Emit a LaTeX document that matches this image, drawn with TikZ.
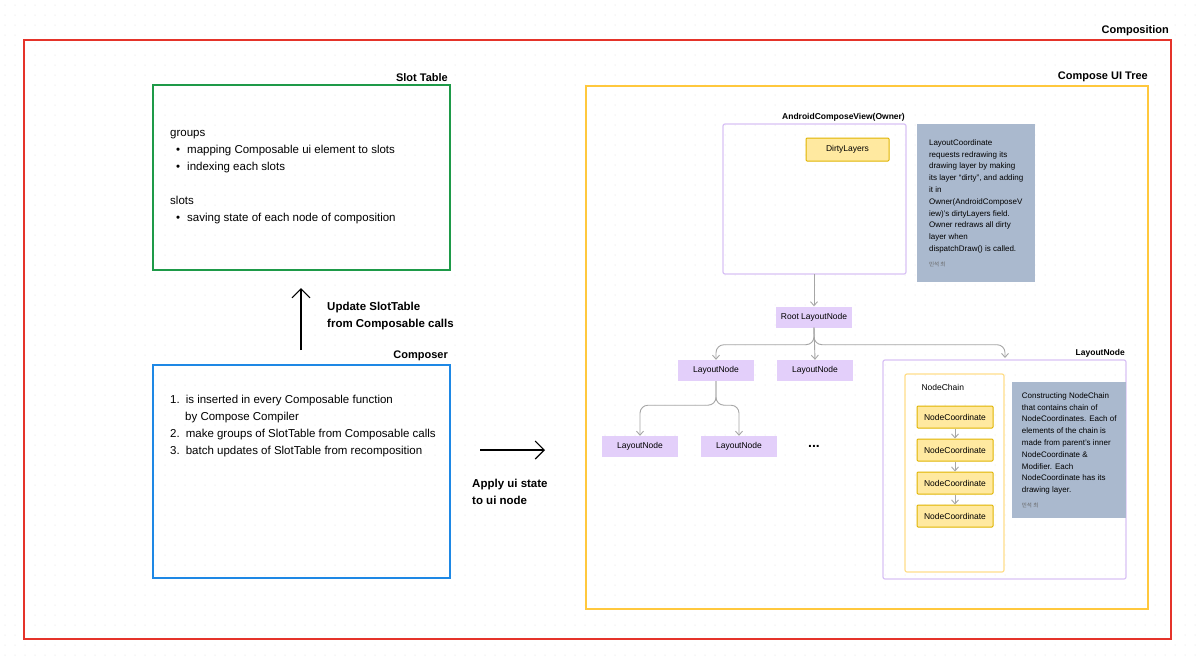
\documentclass[tikz,border=0pt]{standalone}
\usepackage{fontspec}
\setmainfont{Liberation Sans}
\newfontfamily\krfont{Noto Sans CJK KR}
\usetikzlibrary{arrows.meta,positioning}

\definecolor{compRed}{HTML}{E5332A}
\definecolor{slotGreen}{HTML}{1E9A48}
\definecolor{composerBlue}{HTML}{1E88E5}
\definecolor{treeYellow}{HTML}{FFC83D}
\definecolor{ownerPurple}{HTML}{D9C2F5}
\definecolor{nodePurple}{HTML}{E3CFFA}
\definecolor{chipFill}{HTML}{FFE9A0}
\definecolor{chipLine}{HTML}{E0B400}
\definecolor{stickyFill}{HTML}{AAB9CE}

\tikzset{
  frame/.style={draw,line width=1.2pt},
  frame label/.style={font=\bfseries\fontsize{11}{12}\selectfont,anchor=south east,inner sep=1pt},
  small label/.style={font=\bfseries\fontsize{8.5}{10}\selectfont,anchor=south east,inner sep=1pt},
  lnode/.style={fill=nodePurple,minimum width=76pt,minimum height=21pt,font=\fontsize{8.5}{10}\selectfont},
  chip/.style={draw=chipLine,fill=chipFill,line width=1pt,rounded corners=1pt,minimum width=76pt,minimum height=22pt,font=\fontsize{8.5}{10}\selectfont},
  sticky/.style={fill=stickyFill,anchor=north west,align=left,inner xsep=10pt,inner ysep=10pt,font=\fontsize{8}{11.8}\selectfont},
  tree/.style={draw=gray!70,line width=0.9pt,rounded corners=8pt,-{Straight Barb[length=4pt,width=7pt]}},
  big arrow/.style={line width=1.1pt,-{Straight Barb[length=9pt,width=18pt]}},
  note/.style={font=\bfseries\fontsize{11.5}{17}\selectfont,align=left,anchor=north west,inner sep=0pt},
  body/.style={font=\fontsize{11.5}{17}\selectfont,align=left,anchor=north west,inner sep=0pt}
}
\newcommand\authorTag{{\krfont\fontsize{5.5}{8}\selectfont\color{gray!80!black}민석 최}}

\begin{document}
\begin{tikzpicture}[x=1pt,y=-1pt]
  \fill[white] (0,0) rectangle (1200,662);
  \useasboundingbox (0,0) rectangle (1200,662);
  % dot grid
  \foreach \gy in {5,15,...,655}
    \draw[gray!30,line width=1pt,line cap=round,dash pattern=on 0pt off 10pt] (5,\gy) -- (1200,\gy);

  % Composition
  \draw[frame,compRed] (24,40) rectangle (1171,639);
  \node[frame label] at (1170,37) {Composition};

  % Slot Table
  \draw[frame,slotGreen] (153,85) rectangle (450,270);
  \node[frame label] at (449,83) {Slot Table};
  \node[body] (slots) at (170,130) {groups\\
    \hspace*{6pt}\textbullet\hspace{7pt}mapping Composable ui element to slots\\
    \hspace*{6pt}\textbullet\hspace{7pt}indexing each slots\\[17pt]
    slots\\
    \hspace*{6pt}\textbullet\hspace{7pt}saving state of each node of composition};

  % Composer
  \draw[frame,composerBlue] (153,365) rectangle (450,578);
  \node[frame label] at (449,362) {Composer};
  \node[body] (steps) at (170,395) {1.\hspace{6pt}is inserted in every Composable function\\
    \hspace*{15pt}by Compose Compiler\\
    2.\hspace{6pt}make groups of SlotTable from Composable calls\\
    3.\hspace{6pt}batch updates of SlotTable from recomposition};

  \coordinate (upFrom) at (301,350);
  \coordinate (upTo) at (301,288);
  \draw[big arrow] (upFrom) -- (upTo);
  \node[note] (upText) at (327,302) {Update SlotTable\\from Composable calls};

  \coordinate (rightFrom) at (480,450);
  \coordinate (rightTo) at (545,450);
  \draw[big arrow] (rightFrom) -- (rightTo);
  \node[note] (rightText) at (472,479) {Apply ui state\\to ui node};

  % Compose UI Tree
  \draw[frame,treeYellow] (586,86) rectangle (1148,609);
  \node[frame label] at (1149,83) {Compose UI Tree};

  \draw[frame,ownerPurple,rounded corners=2pt] (723,124) rectangle (906,274);
  \node[small label] at (906,122) {AndroidComposeView(Owner)};
  \node[chip,minimum width=83pt,minimum height=23pt] (dirty) at (847.5,149.5) {DirtyLayers};
  \coordinate (owner) at (814,274);

  \node[sticky,minimum width=118pt,minimum height=158pt] (note1) at (917,124) {LayoutCoordinate\\requests redrawing its\\drawing layer by making\\its layer “dirty”, and adding\\it in\\Owner(AndroidComposeV\\iew)’s dirtyLayers field.\\Owner redraws all dirty\\layer when\\dispatchDraw() is called.\\[3pt]\authorTag};

  \node[lnode] (root) at (814,317) {Root LayoutNode};
  \node[lnode] (ln1) at (716,370.5) {LayoutNode};
  \node[lnode] (ln2) at (815,370.5) {LayoutNode};
  \node[lnode] (ln3) at (640,446.5) {LayoutNode};
  \node[lnode] (ln4) at (739,446.5) {LayoutNode};
  \node[font=\bfseries\fontsize{14}{14}\selectfont] (more) at (814,446) {...};

  \draw[frame,ownerPurple,rounded corners=2pt] (883,360) rectangle (1126,579);
  \node[small label] at (1126,358) {LayoutNode};
  \coordinate (ln5) at (1005,358);

  \draw[treeYellow!60,line width=1.2pt,rounded corners=2pt] (905,374) rectangle (1004,572);
  \node[font=\fontsize{8.5}{10}\selectfont,anchor=west] (chain) at (918,387) {NodeChain};
  \node[chip] (nc1) at (955,417) {NodeCoordinate};
  \node[chip] (nc2) at (955,450) {NodeCoordinate};
  \node[chip] (nc3) at (955,483) {NodeCoordinate};
  \node[chip] (nc4) at (955,516) {NodeCoordinate};

  \node[sticky,inner xsep=9pt,minimum width=114pt,minimum height=136pt] (note2) at (1012,382) {Constructing NodeChain\\that contains chain of\\NodeCoordinates. Each of\\elements of the chain is\\made from parent’s inner\\NodeCoordinate \&\\Modifier. Each\\NodeCoordinate has its\\drawing layer.\\[3pt]\authorTag};

  % connectors
  \draw[tree] (owner) -- (root.north);
  \draw[tree] (root.south) -- ++(0,17) -| (ln1.north);
  \draw[tree] (root.south) -- ++(0,17) -| (ln5);
  \draw[tree] (root.south) -- (ln2.north);
  \draw[tree] (ln1.south) -- ++(0,24) -| (ln3.north);
  \draw[tree] (ln1.south) -- ++(0,24) -| (ln4.north);
  \foreach \a/\b in {nc1/nc2,nc2/nc3,nc3/nc4}
    \draw[tree] (\a.south) -- (\b.north);
\end{tikzpicture}
\end{document}
